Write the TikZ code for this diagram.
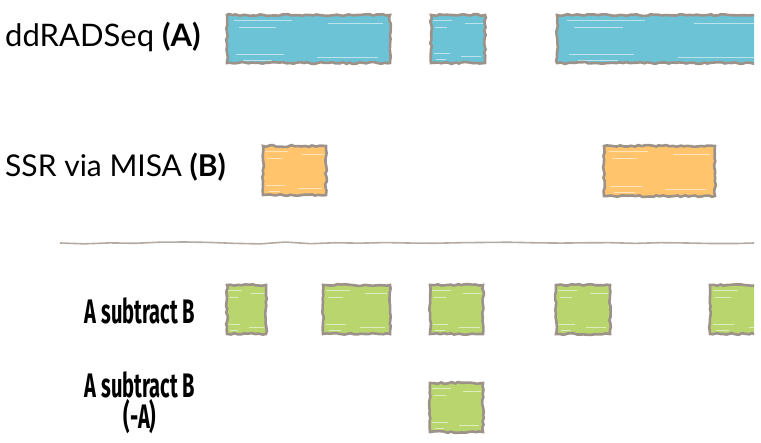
\documentclass[tikz,border=0pt]{standalone}
\usepackage{fontspec}
\setmainfont{Lato}
\newfontfamily\handfont[FakeStretch=0.59]{Fira Sans}
\usetikzlibrary{calc,decorations.pathmorphing}
\definecolor{ablue}{HTML}{6BC3D5}
\definecolor{borange}{HTML}{FFC46C}
\definecolor{cgreen}{HTML}{B9D56D}
\definecolor{bordgray}{HTML}{9C928A}
\definecolor{linegray}{HTML}{B5ABA2}
\tikzset{
  seg/.style={anchor=north west, inner sep=0pt, outer sep=0pt, draw=bordgray,
    line width=2.6pt, decorate,
    decoration={random steps, segment length=3.5pt, amplitude=0.9pt},
    path picture={
      \foreach \f/\a/\b in {0.12/0.05/0.40, 0.18/0.62/0.95, 0.26/0.08/0.30, 0.80/0.06/0.35, 0.86/0.55/0.92, 0.92/0.10/0.28}{
        \draw[white, opacity=0.55, line width=0.8pt]
          ($ ($(path picture bounding box.north west)!\a!(path picture bounding box.north east)$)!\f!($(path picture bounding box.south west)!\a!(path picture bounding box.south east)$) $)
          -- ($ ($(path picture bounding box.north west)!\b!(path picture bounding box.north east)$)!\f!($(path picture bounding box.south west)!\b!(path picture bounding box.south east)$) $);
      }}},
  abox/.style={seg, fill=ablue},
  bbox/.style={seg, fill=borange},
  cbox/.style={seg, fill=cgreen},
  lbl/.style={anchor=base west, inner sep=0pt, font=\fontsize{31}{36}\selectfont},
  hand/.style={inner sep=0pt, align=center, font=\handfont\bfseries\fontsize{34}{31}\selectfont},
}
\pgfmathsetseed{7}
\begin{document}
\begin{tikzpicture}[x=1pt, y=-1pt]
\useasboundingbox (0,0) rectangle (761,443);
% labels
\node[lbl] (la) at (5,47) {ddRADSeq \textbf{(A)}};
\node[lbl, font=\fontsize{30}{36}\selectfont] (lb) at (5,177) {SSR via MISA \textbf{(B)}};
\node[hand, anchor=base] (lc) at (140,324) {A subtract B};
\node[hand, anchor=base] (ld) at (140,429) {A subtract B\\(-A)};
\begin{scope}
\clip (0,0) rectangle (754,443);
% row A
\node[abox, minimum width=163pt, minimum height=48pt] (a1) at (227,15) {};
\node[abox, minimum width=54pt, minimum height=48pt] (a2) at (431,15) {};
\node[abox, minimum width=220pt, minimum height=48pt] (a3) at (557,15) {};
% row B
\node[bbox, minimum width=63pt, minimum height=49pt] (b1) at (263,146) {};
\node[bbox, minimum width=111pt, minimum height=50pt] (b2) at (604,146) {};
% divider
\coordinate (d1) at (60,243);
\coordinate (d2) at (754,243);
\draw[linegray, line width=1.6pt, decorate, decoration={random steps, segment length=25pt, amplitude=1pt}] (d1) -- (d2);
% row C
\node[cbox, minimum width=39pt, minimum height=49pt] (c1) at (227,285) {};
\node[cbox, minimum width=67pt, minimum height=49pt] (c2) at (323,285) {};
\node[cbox, minimum width=53pt, minimum height=49pt] (c3) at (430,285) {};
\node[cbox, minimum width=54pt, minimum height=49pt] (c4) at (556,285) {};
\node[cbox, minimum width=70pt, minimum height=49pt] (c5) at (710,285) {};
% row D
\node[cbox, minimum width=53pt, minimum height=49pt] (d1b) at (430,383) {};
\end{scope}
\end{tikzpicture}
\end{document}
